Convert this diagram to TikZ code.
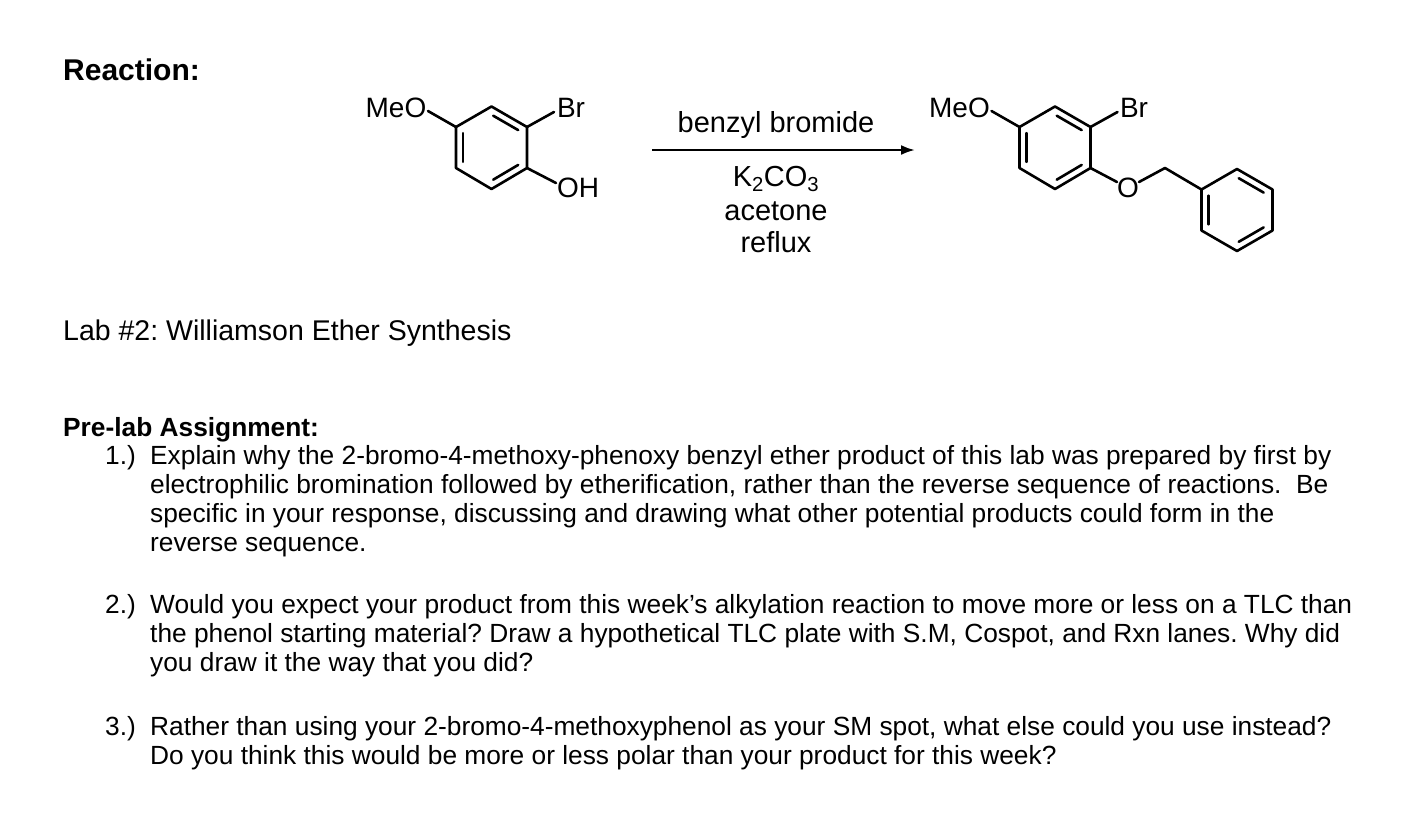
\documentclass[tikz,border=0pt]{standalone}
\usepackage{fontspec}
\setmainfont{Liberation Sans}
\usetikzlibrary{calc,arrows.meta}
\frenchspacing
\begin{document}
\begin{tikzpicture}[x=1pt,y=-1pt,
  bond/.style={line width=2.6pt,line cap=round,line join=round},
  dbl/.style={line width=2.6pt,line cap=round,shorten <=2pt,shorten >=2pt},
  atom/.style={font=\fontsize{28}{30}\selectfont,inner sep=0pt},
  reag/.style={font=\fontsize{29}{31}\selectfont,inner sep=0pt},
  body/.style={font=\fontsize{26.3}{29}\selectfont,anchor=north west,inner sep=0pt,align=left},
  head/.style={font=\fontsize{26.3}{29}\selectfont\bfseries,anchor=west,inner sep=0pt}]
\useasboundingbox (0,0) rectangle (1419,823);
\node[head,font=\fontsize{30}{32}\selectfont\bfseries] (r) at (63,70) {Reaction:};
% starting material
\coordinate (ac) at (491.5,147.5);
\coordinate (a1) at (491.5,106.5); \coordinate (a2) at (527,127);
\coordinate (a3) at (527,168); \coordinate (a4) at (491.5,189);
\coordinate (a5) at (456,168); \coordinate (a6) at (456,127);
\draw[bond] (a1)--(a2)--(a3)--(a4)--(a5)--(a6)--cycle;
\draw[dbl] ($(ac)!0.8!(a1)$)--($(ac)!0.8!(a2)$);
\draw[dbl] ($(ac)!0.8!(a3)$)--($(ac)!0.8!(a4)$);
\draw[dbl] ($(ac)!0.8!(a5)$)--($(ac)!0.8!(a6)$);
\node[atom] (meo1) at (396,108) {MeO};
\node[atom] (br1) at (571,108) {Br};
\node[atom] (oh1) at (578,188) {OH};
\coordinate (m1) at (428,111); \coordinate (b1) at (554,112); \coordinate (o1) at (556,183);
\draw[bond] (a6)--(m1); \draw[bond] (a2)--(b1); \draw[bond] (a3)--(o1);
% arrow
\coordinate (arL) at (652,150); \coordinate (arR) at (915,150);
\draw[line width=2.4pt,-{Latex[length=14pt,width=10pt]}] (arL)--(arR);
\node[reag] (bb) at (776,125) {benzyl bromide};
\node[reag] (k) at (776,179) {K\textsubscript{2}CO\textsubscript{3}};
\node[reag] (ac2) at (776,211) {acetone};
\node[reag] (rf) at (776,242) {reflux};
% product
\coordinate (bc) at (1055,147.5);
\coordinate (b1a) at (1055,106.5); \coordinate (b2) at (1090.5,127);
\coordinate (b3) at (1090.5,168); \coordinate (b4) at (1055,189);
\coordinate (b5) at (1019.5,168); \coordinate (b6) at (1019.5,127);
\draw[bond] (b1a)--(b2)--(b3)--(b4)--(b5)--(b6)--cycle;
\draw[dbl] ($(bc)!0.8!(b1a)$)--($(bc)!0.8!(b2)$);
\draw[dbl] ($(bc)!0.8!(b3)$)--($(bc)!0.8!(b4)$);
\draw[dbl] ($(bc)!0.8!(b5)$)--($(bc)!0.8!(b6)$);
\node[atom] (meo2) at (959.5,108) {MeO};
\node[atom] (br2) at (1134,108) {Br};
\node[atom] (o2) at (1128,188) {O};
\coordinate (m2) at (991.5,111); \coordinate (bb2) at (1117.5,112);
\coordinate (ox1) at (1117,182); \coordinate (ox2) at (1139,182);
\coordinate (ch2) at (1165,168);
\draw[bond] (b6)--(m2); \draw[bond] (b2)--(bb2); \draw[bond] (b3)--(ox1);
\coordinate (cc) at (1237,210);
\coordinate (c1) at (1237,169); \coordinate (c2) at (1272.5,189.5);
\coordinate (c3) at (1272.5,230.5); \coordinate (c4) at (1237,251);
\coordinate (c5) at (1201.5,230.5); \coordinate (c6) at (1201.5,189.5);
\draw[bond] (ox2)--(ch2)--(c6);
\draw[bond] (c1)--(c2)--(c3)--(c4)--(c5)--(c6)--cycle;
\draw[dbl] ($(cc)!0.8!(c1)$)--($(cc)!0.8!(c2)$);
\draw[dbl] ($(cc)!0.8!(c3)$)--($(cc)!0.8!(c4)$);
\draw[dbl] ($(cc)!0.8!(c5)$)--($(cc)!0.8!(c6)$);
% text
\node[body,anchor=west,font=\fontsize{28.5}{30}\selectfont] (lab) at (63,333) {Lab \#2: Williamson Ether Synthesis};
\node[head] (pre) at (63,430) {Pre-lab Assignment:};
\node[body] (n1) at (105,445) {1.)};
\node[body] (t1) at (150,445) {Explain why the 2-bromo-4-methoxy-phenoxy benzyl ether product of this lab was prepared by first by\\
electrophilic bromination followed by etherification, rather than the reverse sequence of reactions.\ \ Be\\
specific in your response, discussing and drawing what other potential products could form in the\\
reverse sequence.};
\node[body] (n2) at (105,594) {2.)};
\node[body] (t2) at (150,594) {Would you expect your product from this week’s alkylation reaction to move more or less on a TLC than\\
the phenol starting material? Draw a hypothetical TLC plate with S.M, Cospot, and Rxn lanes. Why did\\
you draw it the way that you did?};
\node[body] (n3) at (105,716) {3.)};
\node[body] (t3) at (150,716) {Rather than using your 2-bromo-4-methoxyphenol as your SM spot, what else could you use instead?\\
Do you think this would be more or less polar than your product for this week?};
\end{tikzpicture}
\end{document}
